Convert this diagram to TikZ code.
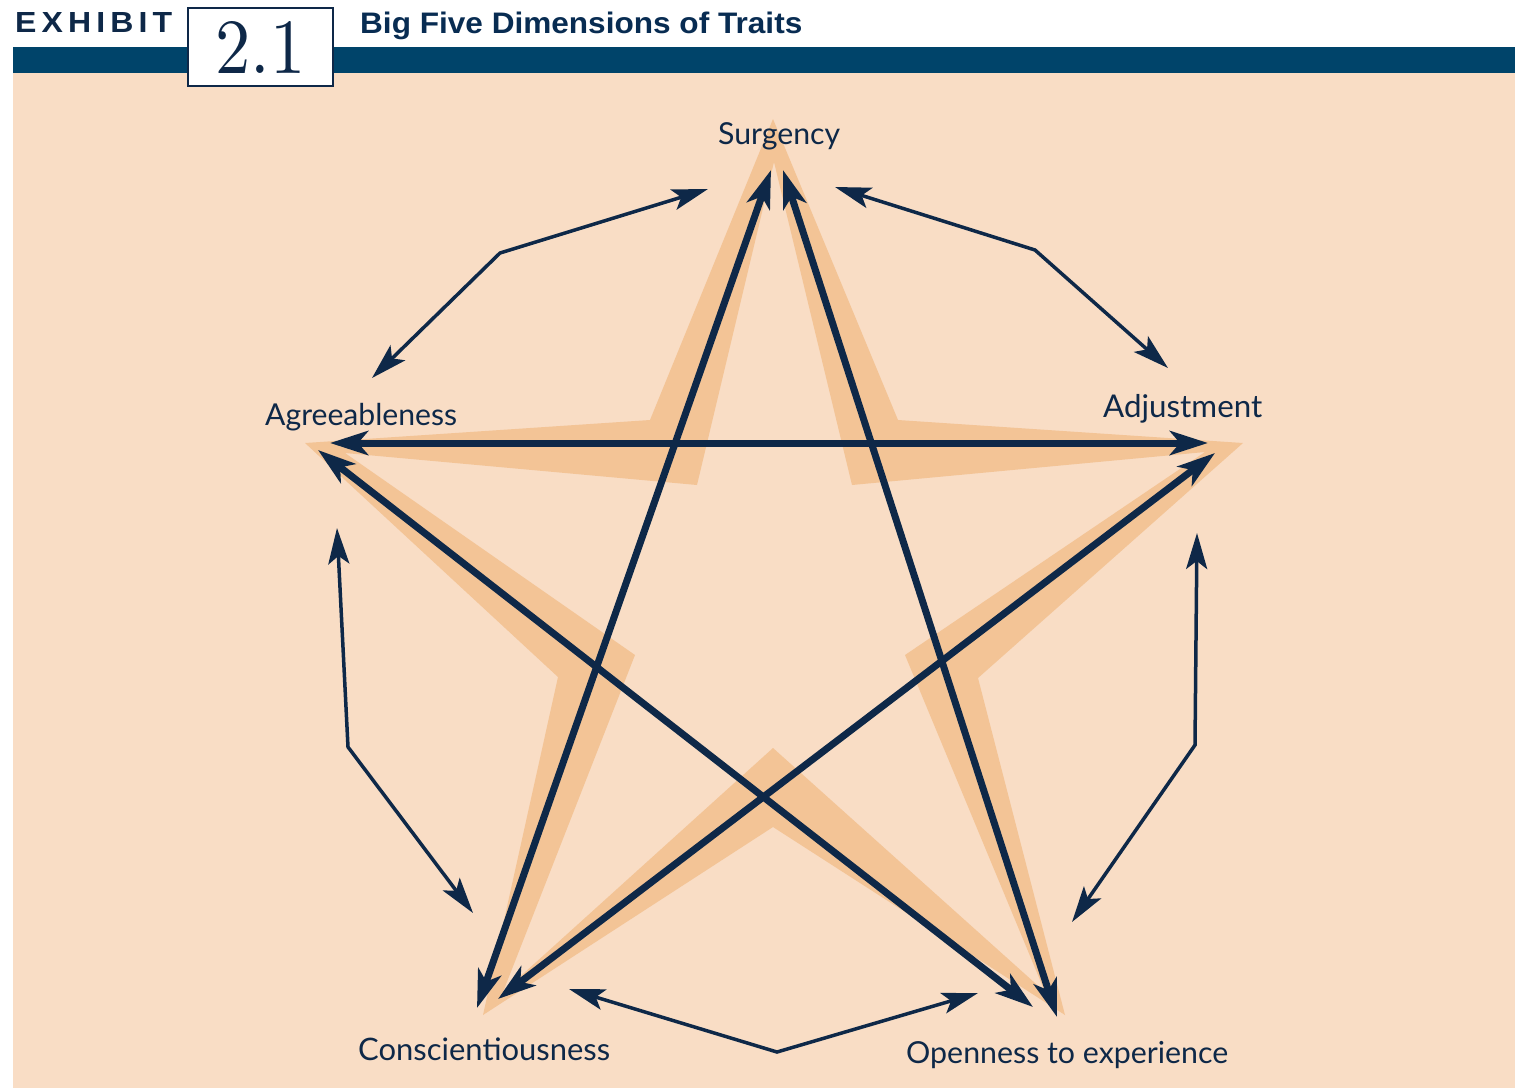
\documentclass[tikz,border=0pt]{standalone}
\usepackage{fontspec}
\usepackage{graphicx}
\newfontfamily\lblfont{Lato}
\newfontfamily\hdfont{Liberation Sans}
\newfontfamily\numfont{Latin Modern Roman}
\usetikzlibrary{arrows.meta}
\definecolor{peach}{RGB}{249,221,197}
\definecolor{starshade}{RGB}{243,196,150}
\definecolor{navy}{RGB}{14,40,72}
\definecolor{barblue}{RGB}{0,68,106}
\definecolor{titleblue}{RGB}{8,44,82}
\tikzset{
  thk/.style={draw=navy, line width=7pt,
    arrows={Stealth[length=38pt,width=24pt,inset=10pt]-Stealth[length=38pt,width=24pt,inset=10pt]}},
  thn/.style={draw=navy, line width=3.5pt, line join=miter,
    arrows={Stealth[length=36pt,width=21pt,inset=8pt]-Stealth[length=36pt,width=21pt,inset=8pt]}},
  lbl/.style={inner sep=0pt, text=navy, anchor=base west, font=\lblfont},
  hdr/.style={inner sep=0pt, anchor=north west}
}
\begin{document}
\begin{tikzpicture}[x=1pt,y=-1pt]
\useasboundingbox (0,0) rectangle (1532,1088);
\fill[white] (0,0) rectangle (1532,1088);
% background panel and header bar
\fill[peach] (13,73) rectangle (1515,1088);
\fill[barblue] (13,47) rectangle (1515,73);
% header
\node[hdr] (exh) at (15,12) {\resizebox{157pt}{20pt}{\hdfont\bfseries\color{navy}E\kern1.6pt X\kern1.6pt H\kern1.6pt I\kern1.6pt B\kern1.6pt I\kern1.6pt T}};
\node[draw=navy, line width=1.6pt, fill=white, minimum width=145pt, minimum height=78pt, inner sep=0pt] (box) at (260.5,47) {\resizebox{90pt}{52pt}{\numfont\color{navy}2.1}};
\node[hdr] (ttl) at (360,12) {\resizebox{442pt}{21.5pt}{\hdfont\bfseries\color{titleblue}Big Five Dimensions of Traits}};

% star shadow
\fill[starshade, even odd rule]
  (773,119) -- (898,420) -- (1243,443) -- (978,678) -- (1065,1015) -- (773,827)
  -- (483,1015) -- (558,677) -- (305,443) -- (650,420) -- cycle
  (697,485) -- (774,162) -- (852,485) -- (1205,452) -- (905,655) -- (1045,992)
  -- (773,748) -- (503,992) -- (635,655) -- (345,453) -- cycle;

% labels
\node[lbl] (sur) at (718,144) {\resizebox{122pt}{!}{Surgency}};
\node[lbl] (agr) at (265,425) {\resizebox{192pt}{!}{Agreeableness}};
\node[lbl] (adj) at (1103,417) {\resizebox{159pt}{!}{Adjustment}};
\node[lbl] (con) at (358,1060) {\resizebox{252pt}{!}{Conscientiousness}};
\node[lbl] (ope) at (906,1063) {\resizebox{322pt}{!}{Openness to experience}};

% pentagram end points
\coordinate (hL) at (330,443);
\coordinate (hR) at (1208,443);
\coordinate (sL) at (771,170);
\coordinate (cT) at (477,1008);
\coordinate (sR) at (783,170);
\coordinate (oT) at (1057,1017);
\coordinate (aD) at (318,450);
\coordinate (oL) at (1033,1007);
\coordinate (jD) at (1215,453);
\coordinate (cR) at (498,999);

\draw[thk] (hL) -- (hR);
\draw[thk] (sL) -- (cT);
\draw[thk] (sR) -- (oT);
\draw[thk] (aD) -- (oL);
\draw[thk] (jD) -- (cR);

% outer connecting arrows
\coordinate (p1a) at (708,189);
\coordinate (p1b) at (500,253);
\coordinate (p1c) at (372,378);
\coordinate (p2a) at (835,187);
\coordinate (p2b) at (1035,250);
\coordinate (p2c) at (1168,368);
\coordinate (p3a) at (1197,533);
\coordinate (p3b) at (1195,745);
\coordinate (p3c) at (1072,922);
\coordinate (p4a) at (337,528);
\coordinate (p4b) at (348,747);
\coordinate (p4c) at (473,913);
\coordinate (p5a) at (569,989);
\coordinate (p5b) at (777,1052);
\coordinate (p5c) at (978,993);

\draw[thn] (p1a) -- (p1b) -- (p1c);
\draw[thn] (p2a) -- (p2b) -- (p2c);
\draw[thn] (p3a) -- (p3b) -- (p3c);
\draw[thn] (p4a) -- (p4b) -- (p4c);
\draw[thn] (p5a) -- (p5b) -- (p5c);
\end{tikzpicture}
\end{document}
